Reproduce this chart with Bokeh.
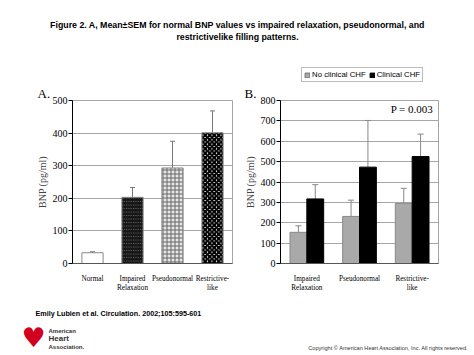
from bokeh.plotting import figure
from bokeh.layouts import column, row
from bokeh.models import (Range1d, FixedTicker, Whisker, ColumnDataSource, Label,
                          TeeHead, Legend, LegendItem, Title)
from bokeh.embed import file_html
from bokeh.resources import INLINE
from bokeh.core.properties import value

# ---------------- data ----------------
title_lines = ["Figure 2. A, Mean\u00b1SEM for normal BNP values vs impaired relaxation, pseudonormal, and",
               "restrictivelike filling patterns."]
citation = "Emily Lubien et al. Circulation. 2002;105:595-601"
copyright_text = "Copyright \u00a9 American Heart Association, Inc. All rights reserved."

a_categories = ["Normal", "Impaired\nRelaxation", "Pseudonormal", "Restrictive-\nlike"]
a_means = [33, 203, 293, 401]
a_upper = [36, 233, 375, 468]
a_ticks = [0, 100, 200, 300, 400, 500]

b_categories = ["Impaired\nRelaxation", "Pseudonormal", "Restrictive-\nlike"]
b_series = ["No clinical CHF", "Clinical CHF"]
b_colors = ["#a9a9a9", "black"]
b_no_chf = [153, 231, 295]
b_no_chf_upper = [185, 311, 369]
b_chf = [317, 473, 525]
b_chf_upper = [387, 702, 635]
b_ticks = [0, 100, 200, 300, 400, 500, 600, 700, 800]

SERIF = "Liberation Serif"
SANS = "Liberation Sans"
GRID = "#a6a6a6"
NAN = float("nan")

def base_fig(w, h, **kw):
    p = figure(width=w, height=h, toolbar_location=None, output_backend="svg", **kw)
    p.background_fill_color = "white"
    p.border_fill_color = "white"
    return p

def style_axes(p, ticks):
    p.yaxis.ticker = FixedTicker(ticks=ticks)
    p.yaxis.minor_tick_line_color = None
    p.yaxis.major_tick_in = 0
    p.yaxis.major_tick_out = 4
    p.yaxis.major_label_standoff = 1
    p.yaxis.axis_line_color = "black"
    p.yaxis.major_tick_line_color = "black"
    p.yaxis.major_label_text_font = SERIF
    p.yaxis.major_label_text_font_size = "10px"
    p.yaxis.major_label_text_color = "black"
    p.yaxis.axis_label = "BNP (pg/ml)"
    p.yaxis.axis_label_text_font = SERIF
    p.yaxis.axis_label_text_font_style = "normal"
    p.yaxis.axis_label_text_font_size = "10px"
    p.yaxis.axis_label_standoff = 2
    p.xaxis.major_tick_line_color = None
    p.xaxis.minor_tick_line_color = None
    p.xaxis.axis_line_color = "#555555"
    p.xaxis.major_label_text_font = SERIF
    p.xaxis.major_label_text_font_size = "7.2px"
    p.xaxis.major_label_standoff = 5
    p.xaxis.major_label_text_color = "black"
    p.xgrid.grid_line_color = None
    p.ygrid.grid_line_color = GRID
    p.ygrid.ticker = FixedTicker(ticks=ticks)
    p.outline_line_color = GRID

def panel_title(text, offset):
    return Title(text=text, align="left", offset=offset, standoff=0,
                 text_font=SERIF, text_font_size="13px", text_font_style="normal",
                 text_color="black")

# ---------------- header (title + legend of panel B) ----------------
HEAD_H = 83
head = base_fig(474, HEAD_H, x_range=Range1d(0, 474), y_range=Range1d(HEAD_H, 0), min_border=0)
head.axis.visible = False
head.grid.visible = False
head.outline_line_color = None
head.text(x=[237, 237], y=[24, 36], text=title_lines, text_align="center",
          text_baseline="middle", text_font=value(SANS), text_font_style="bold",
          text_font_size="8.8px", text_color="black")
# legend swatches only (no visible marks in the header): NaN data keeps them off-canvas
swatch_src = ColumnDataSource(dict(x=[NAN], top=[NAN]))
leg_r = [head.vbar(x="x", top="top", width=1, source=swatch_src, fill_color=c,
                   line_color="#707070" if c != "black" else "black") for c in b_colors]
legend = Legend(items=[LegendItem(label=s, renderers=[r], index=0) for s, r in zip(b_series, leg_r)],
                orientation="horizontal", location=(301, 1))
legend.label_text_font = SANS
legend.label_text_font_size = "7.8px"
legend.label_text_color = "black"
legend.glyph_width = 6
legend.glyph_height = 6
legend.label_height = 7
legend.label_standoff = 2
legend.spacing = 3
legend.padding = 2
legend.margin = 0
legend.border_line_color = "#777777"
head.add_layout(legend, "center")

# ---------------- panel A ----------------
n_a = len(a_categories)
a_x = [i + 0.5 for i in range(n_a)]
pa = base_fig(240, 300 - HEAD_H, x_range=Range1d(0, n_a), y_range=Range1d(0, a_ticks[-1]),
              min_border_left=72, min_border_right=8, min_border_top=14, min_border_bottom=36)
pa.title = panel_title("A.", -35)
style_axes(pa, a_ticks)
pa.xaxis.ticker = FixedTicker(ticks=a_x)
pa.xaxis.major_label_overrides = {x: c for x, c in zip(a_x, a_categories)}

styles = [
    dict(fill_color="white", hatch_pattern=None),
    dict(fill_color="#999999", hatch_pattern="\\", hatch_color="#111111", hatch_scale=3.5, hatch_weight=1.5),
    dict(fill_color="#e6e6e6", hatch_pattern="+", hatch_color="#666666", hatch_scale=4, hatch_weight=1),
    dict(fill_color="white", hatch_pattern="x", hatch_color="black", hatch_scale=4.5, hatch_weight=2.2),
]
for xi, m, st in zip(a_x, a_means, styles):
    kw = dict(x=[xi], top=[m], bottom=0, width=0.53, line_color="#888888", line_width=1,
              fill_color=st["fill_color"])
    if st["hatch_pattern"]:
        kw.update(hatch_pattern=st["hatch_pattern"], hatch_color=st["hatch_color"],
                  hatch_scale=st["hatch_scale"], hatch_weight=st["hatch_weight"])
    pa.vbar(**kw)

src_a = ColumnDataSource(dict(x=a_x, lower=a_means, upper=a_upper))
pa.add_layout(Whisker(source=src_a, base="x", lower="lower", upper="upper",
                      line_color="#777777", line_width=1, lower_head=None,
                      upper_head=TeeHead(size=5, line_color="#777777", line_width=1)))

# ---------------- panel B ----------------
n_b = len(b_categories)
b_x = [i + 0.5 for i in range(n_b)]
off = 0.16
bw = 0.32
pb = base_fig(234, 300 - HEAD_H, x_range=Range1d(0, n_b), y_range=Range1d(0, b_ticks[-1]),
              min_border_left=40, min_border_right=36, min_border_top=14, min_border_bottom=37)
pb.title = panel_title("B.", -36)
style_axes(pb, b_ticks)
pb.xaxis.ticker = FixedTicker(ticks=b_x)
pb.xaxis.major_label_overrides = {x: c for x, c in zip(b_x, b_categories)}

src_b = ColumnDataSource(dict(
    x0=[x - off for x in b_x], x1=[x + off for x in b_x],
    no=b_no_chf, no_up=b_no_chf_upper, chf=b_chf, chf_up=b_chf_upper))
pb.vbar(x="x0", top="no", bottom=0, width=bw, source=src_b,
        fill_color=b_colors[0], line_color="#8a8a8a")
pb.vbar(x="x1", top="chf", bottom=0, width=bw, source=src_b,
        fill_color=b_colors[1], line_color="black")
for base, lo, up in [("x0", "no", "no_up"), ("x1", "chf", "chf_up")]:
    pb.add_layout(Whisker(source=src_b, base=base, lower=lo, upper=up,
                          line_color="#888888", line_width=1, lower_head=None,
                          upper_head=TeeHead(size=6, line_color="#888888", line_width=1)))

pb.add_layout(Label(x=2.9, y=756, text="P = 0.003", text_font=SERIF, text_font_size="11px",
                    text_align="right", text_baseline="middle", text_color="black"))

# ---------------- footer ----------------
foot = base_fig(474, 55, x_range=Range1d(0, 474), y_range=Range1d(355, 300), min_border=0)
foot.axis.visible = False
foot.grid.visible = False
foot.outline_line_color = None
foot.text(x=[35], y=[313], text=[citation], text_font=value(SANS), text_font_style="bold",
          text_font_size="7.2px", text_baseline="middle", text_color="black")
foot.text(x=[33], y=[337], text=["\u2665"], text_font=value("DejaVu Sans"), text_font_size="27px",
          text_align="center", text_baseline="middle", text_color="#d2001e")
foot.text(x=[48, 48, 48], y=[330, 338, 346], text=["American", "Heart", "Association."],
          text_font=value(SANS), text_font_style="bold", text_font_size=["6px", "8px", "6px"],
          text_baseline="middle", text_color="#333333")
foot.text(x=[468], y=[347], text=[copyright_text], text_font=value(SANS), text_font_size="5.6px",
          text_align="right", text_baseline="middle", text_color="#333333")

layout = column(head, row(pa, pb), foot)
open("out.html", "w").write(file_html(layout, INLINE))
